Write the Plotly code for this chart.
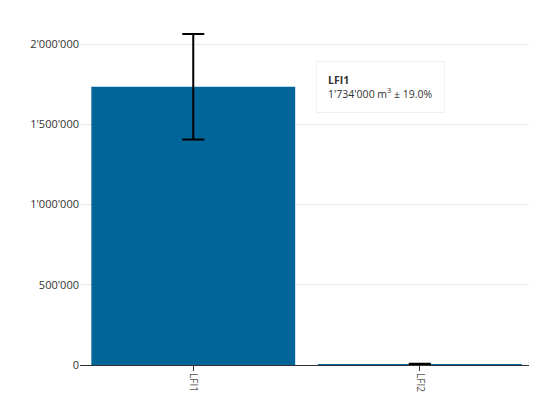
import plotly.graph_objects as go

categories = ['LFI1', 'LFI2']
volumes = [1734000, 3000]
errors_pct = [19.0, 150.0]
errors = [v * p / 100 for v, p in zip(volumes, errors_pct)]

fig = go.Figure()

fig.add_trace(go.Bar(
    x=categories,
    y=volumes,
    marker=dict(color='#006599', line=dict(width=0)),
    error_y=dict(type='data', array=errors, visible=True,
                 color='black', thickness=2, width=11),
    hoverinfo='skip'
))

# tooltip-style label for LFI1
fig.add_annotation(
    x=0.521, xref='paper', y=volumes[0], yref='y',
    xanchor='left', yanchor='middle', align='left',
    text="<b>LFI1</b><br>1'734'000 m<sup>3</sup> ± 19.0%",
    showarrow=False,
    bgcolor='white', borderpad=11, bordercolor='#f0f0f0', borderwidth=1,
    font=dict(family='Open Sans', size=10.5, color='#333')
)

fig.update_layout(
    width=537, height=415,
    margin=dict(l=72, r=12, t=12, b=58),
    paper_bgcolor='white', plot_bgcolor='white',
    bargap=0.1,
    showlegend=False,
    separators=".'",
    font=dict(family='Open Sans', size=11, color='#333'),
    xaxis=dict(tickangle=90, showline=True, linecolor='#333', linewidth=1,
               ticks='outside', ticklen=5, tickcolor='#333',
               tickfont=dict(size=10, color='#555')),
    yaxis=dict(range=[0, 2150000], tickvals=[0, 500000, 1000000, 1500000, 2000000],
               tickformat=',d', showgrid=True, gridcolor='#e8e8e8',
               zeroline=False, tickfont=dict(size=11, color='#333'))
)

fig.write_html("out.html")
